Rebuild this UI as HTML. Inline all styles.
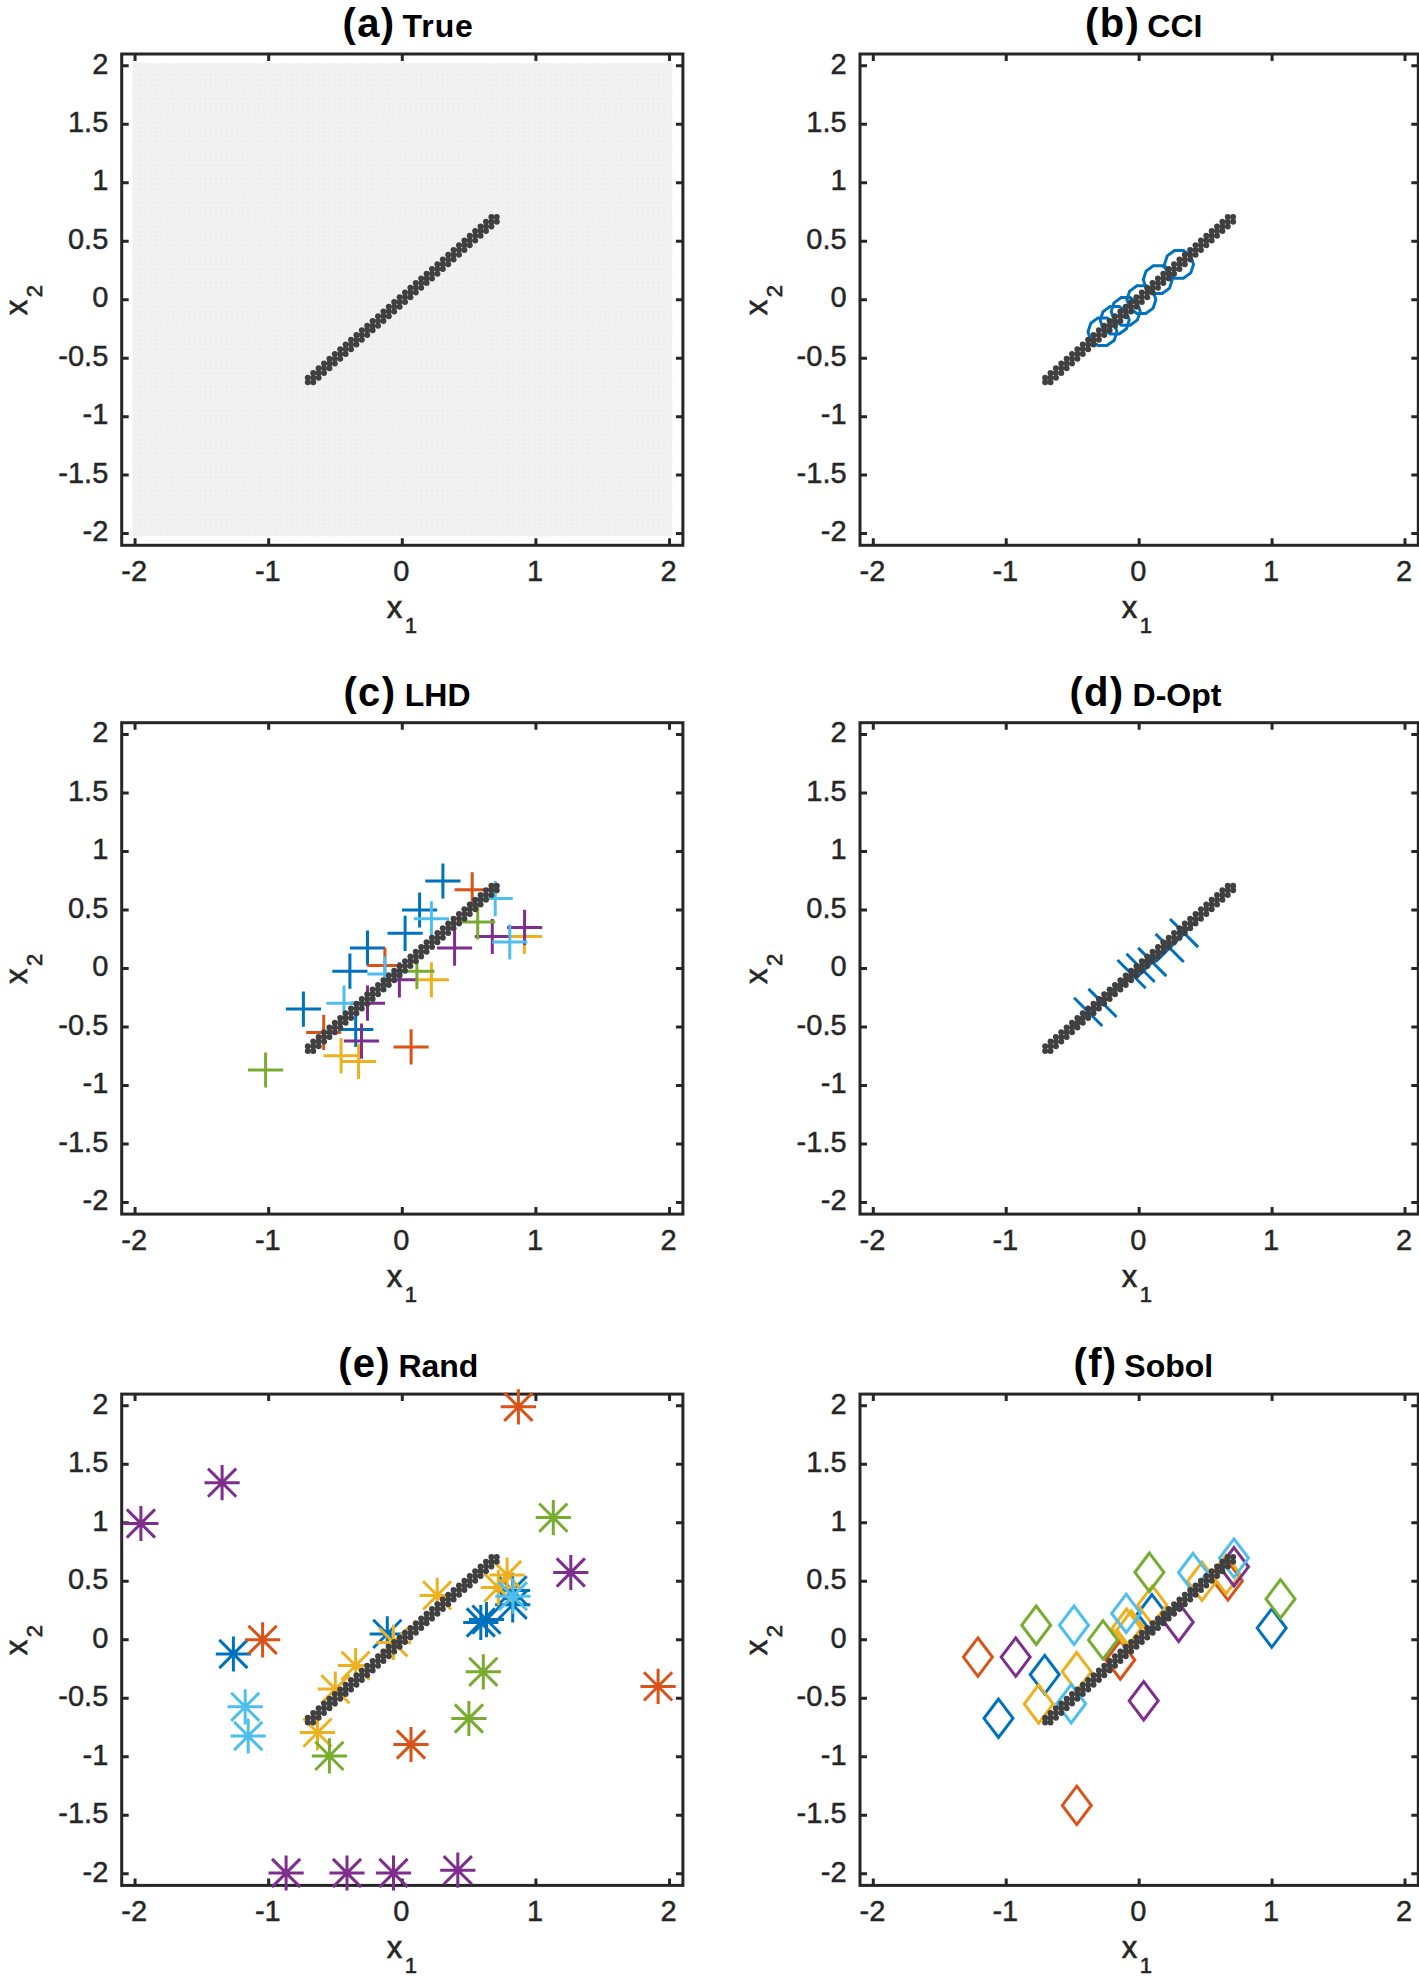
<!DOCTYPE html>
<html lang="en"><head><meta charset="utf-8"><title>Designs: True, CCI, LHD, D-Opt, Rand, Sobol</title>
<style>html,body{margin:0;padding:0;background:#fff}svg{display:block}text{font-family:"Liberation Sans","Helvetica","Arial",sans-serif}.tk{font-size:29px;fill:#262626;stroke:#262626;stroke-width:.45px}.lb{font-size:31px;fill:#262626;stroke:#262626;stroke-width:.6px}.sb{font-size:22px}.t1{font-size:40px;font-weight:bold;fill:#000;letter-spacing:1.3px}.t2{font-size:32px;font-weight:bold;fill:#000}.fr{fill:none;stroke:#262626;stroke-width:3.0}.mk{fill:none;stroke-width:3.0;stroke-linejoin:miter}</style></head><body>
<svg width="1419" height="1978" viewBox="0 0 1419 1978">
<rect width="1419" height="1978" fill="#fff"/>
<defs>
<g id="band0" fill="#404040">
<circle cx="186.12" cy="328.36" r="3.0"/>
<circle cx="186.12" cy="323.63" r="3.0"/>
<circle cx="191.52" cy="328.36" r="3.0"/>
<circle cx="191.52" cy="323.63" r="3.0"/>
<circle cx="191.52" cy="318.91" r="3.0"/>
<circle cx="196.92" cy="323.63" r="3.0"/>
<circle cx="196.92" cy="318.91" r="3.0"/>
<circle cx="196.92" cy="314.18" r="3.0"/>
<circle cx="202.32" cy="318.91" r="3.0"/>
<circle cx="202.32" cy="314.18" r="3.0"/>
<circle cx="202.32" cy="309.46" r="3.0"/>
<circle cx="207.72" cy="314.18" r="3.0"/>
<circle cx="207.72" cy="309.46" r="3.0"/>
<circle cx="207.72" cy="304.73" r="3.0"/>
<circle cx="213.12" cy="309.46" r="3.0"/>
<circle cx="213.12" cy="304.73" r="3.0"/>
<circle cx="213.12" cy="300" r="3.0"/>
<circle cx="218.51" cy="304.73" r="3.0"/>
<circle cx="218.51" cy="300" r="3.0"/>
<circle cx="218.51" cy="295.28" r="3.0"/>
<circle cx="223.91" cy="300" r="3.0"/>
<circle cx="223.91" cy="295.28" r="3.0"/>
<circle cx="223.91" cy="290.55" r="3.0"/>
<circle cx="229.31" cy="295.28" r="3.0"/>
<circle cx="229.31" cy="290.55" r="3.0"/>
<circle cx="229.31" cy="285.82" r="3.0"/>
<circle cx="234.71" cy="290.55" r="3.0"/>
<circle cx="234.71" cy="285.82" r="3.0"/>
<circle cx="234.71" cy="281.1" r="3.0"/>
<circle cx="240.11" cy="285.82" r="3.0"/>
<circle cx="240.11" cy="281.1" r="3.0"/>
<circle cx="240.11" cy="276.37" r="3.0"/>
<circle cx="245.51" cy="281.1" r="3.0"/>
<circle cx="245.51" cy="276.37" r="3.0"/>
<circle cx="245.51" cy="271.64" r="3.0"/>
<circle cx="250.91" cy="276.37" r="3.0"/>
<circle cx="250.91" cy="271.64" r="3.0"/>
<circle cx="250.91" cy="266.92" r="3.0"/>
<circle cx="256.31" cy="271.64" r="3.0"/>
<circle cx="256.31" cy="266.92" r="3.0"/>
<circle cx="256.31" cy="262.19" r="3.0"/>
<circle cx="261.7" cy="266.92" r="3.0"/>
<circle cx="261.7" cy="262.19" r="3.0"/>
<circle cx="261.7" cy="257.47" r="3.0"/>
<circle cx="267.1" cy="262.19" r="3.0"/>
<circle cx="267.1" cy="257.47" r="3.0"/>
<circle cx="267.1" cy="252.74" r="3.0"/>
<circle cx="272.5" cy="257.47" r="3.0"/>
<circle cx="272.5" cy="252.74" r="3.0"/>
<circle cx="272.5" cy="248.01" r="3.0"/>
<circle cx="277.9" cy="252.74" r="3.0"/>
<circle cx="277.9" cy="248.01" r="3.0"/>
<circle cx="277.9" cy="243.29" r="3.0"/>
<circle cx="283.3" cy="248.01" r="3.0"/>
<circle cx="283.3" cy="243.29" r="3.0"/>
<circle cx="283.3" cy="238.56" r="3.0"/>
<circle cx="288.7" cy="243.29" r="3.0"/>
<circle cx="288.7" cy="238.56" r="3.0"/>
<circle cx="288.7" cy="233.83" r="3.0"/>
<circle cx="294.1" cy="238.56" r="3.0"/>
<circle cx="294.1" cy="233.83" r="3.0"/>
<circle cx="294.1" cy="229.11" r="3.0"/>
<circle cx="299.5" cy="233.83" r="3.0"/>
<circle cx="299.5" cy="229.11" r="3.0"/>
<circle cx="299.5" cy="224.38" r="3.0"/>
<circle cx="304.89" cy="229.11" r="3.0"/>
<circle cx="304.89" cy="224.38" r="3.0"/>
<circle cx="304.89" cy="219.66" r="3.0"/>
<circle cx="310.29" cy="224.38" r="3.0"/>
<circle cx="310.29" cy="219.66" r="3.0"/>
<circle cx="310.29" cy="214.93" r="3.0"/>
<circle cx="315.69" cy="219.66" r="3.0"/>
<circle cx="315.69" cy="214.93" r="3.0"/>
<circle cx="315.69" cy="210.2" r="3.0"/>
<circle cx="321.09" cy="214.93" r="3.0"/>
<circle cx="321.09" cy="210.2" r="3.0"/>
<circle cx="321.09" cy="205.48" r="3.0"/>
<circle cx="326.49" cy="210.2" r="3.0"/>
<circle cx="326.49" cy="205.48" r="3.0"/>
<circle cx="326.49" cy="200.75" r="3.0"/>
<circle cx="331.89" cy="205.48" r="3.0"/>
<circle cx="331.89" cy="200.75" r="3.0"/>
<circle cx="331.89" cy="196.02" r="3.0"/>
<circle cx="337.29" cy="200.75" r="3.0"/>
<circle cx="337.29" cy="196.02" r="3.0"/>
<circle cx="337.29" cy="191.3" r="3.0"/>
<circle cx="342.69" cy="196.02" r="3.0"/>
<circle cx="342.69" cy="191.3" r="3.0"/>
<circle cx="342.69" cy="186.57" r="3.0"/>
<circle cx="348.08" cy="191.3" r="3.0"/>
<circle cx="348.08" cy="186.57" r="3.0"/>
<circle cx="348.08" cy="181.84" r="3.0"/>
<circle cx="353.48" cy="186.57" r="3.0"/>
<circle cx="353.48" cy="181.84" r="3.0"/>
<circle cx="353.48" cy="177.12" r="3.0"/>
<circle cx="358.88" cy="181.84" r="3.0"/>
<circle cx="358.88" cy="177.12" r="3.0"/>
<circle cx="358.88" cy="172.39" r="3.0"/>
<circle cx="364.28" cy="177.12" r="3.0"/>
<circle cx="364.28" cy="172.39" r="3.0"/>
<circle cx="364.28" cy="167.67" r="3.0"/>
<circle cx="369.68" cy="172.39" r="3.0"/>
<circle cx="369.68" cy="167.67" r="3.0"/>
<circle cx="369.68" cy="162.94" r="3.0"/>
<circle cx="375.08" cy="167.67" r="3.0"/>
<circle cx="375.08" cy="162.94" r="3.0"/>
</g>
<g id="band1" fill="#404040">
<circle cx="185.16" cy="328.36" r="3.0"/>
<circle cx="185.16" cy="323.63" r="3.0"/>
<circle cx="190.53" cy="328.36" r="3.0"/>
<circle cx="190.53" cy="323.63" r="3.0"/>
<circle cx="190.53" cy="318.91" r="3.0"/>
<circle cx="195.9" cy="323.63" r="3.0"/>
<circle cx="195.9" cy="318.91" r="3.0"/>
<circle cx="195.9" cy="314.18" r="3.0"/>
<circle cx="201.27" cy="318.91" r="3.0"/>
<circle cx="201.27" cy="314.18" r="3.0"/>
<circle cx="201.27" cy="309.46" r="3.0"/>
<circle cx="206.64" cy="314.18" r="3.0"/>
<circle cx="206.64" cy="309.46" r="3.0"/>
<circle cx="206.64" cy="304.73" r="3.0"/>
<circle cx="212.01" cy="309.46" r="3.0"/>
<circle cx="212.01" cy="304.73" r="3.0"/>
<circle cx="212.01" cy="300" r="3.0"/>
<circle cx="217.39" cy="304.73" r="3.0"/>
<circle cx="217.39" cy="300" r="3.0"/>
<circle cx="217.39" cy="295.28" r="3.0"/>
<circle cx="222.76" cy="300" r="3.0"/>
<circle cx="222.76" cy="295.28" r="3.0"/>
<circle cx="222.76" cy="290.55" r="3.0"/>
<circle cx="228.13" cy="295.28" r="3.0"/>
<circle cx="228.13" cy="290.55" r="3.0"/>
<circle cx="228.13" cy="285.82" r="3.0"/>
<circle cx="233.5" cy="290.55" r="3.0"/>
<circle cx="233.5" cy="285.82" r="3.0"/>
<circle cx="233.5" cy="281.1" r="3.0"/>
<circle cx="238.87" cy="285.82" r="3.0"/>
<circle cx="238.87" cy="281.1" r="3.0"/>
<circle cx="238.87" cy="276.37" r="3.0"/>
<circle cx="244.24" cy="281.1" r="3.0"/>
<circle cx="244.24" cy="276.37" r="3.0"/>
<circle cx="244.24" cy="271.64" r="3.0"/>
<circle cx="249.61" cy="276.37" r="3.0"/>
<circle cx="249.61" cy="271.64" r="3.0"/>
<circle cx="249.61" cy="266.92" r="3.0"/>
<circle cx="254.98" cy="271.64" r="3.0"/>
<circle cx="254.98" cy="266.92" r="3.0"/>
<circle cx="254.98" cy="262.19" r="3.0"/>
<circle cx="260.35" cy="266.92" r="3.0"/>
<circle cx="260.35" cy="262.19" r="3.0"/>
<circle cx="260.35" cy="257.47" r="3.0"/>
<circle cx="265.72" cy="262.19" r="3.0"/>
<circle cx="265.72" cy="257.47" r="3.0"/>
<circle cx="265.72" cy="252.74" r="3.0"/>
<circle cx="271.09" cy="257.47" r="3.0"/>
<circle cx="271.09" cy="252.74" r="3.0"/>
<circle cx="271.09" cy="248.01" r="3.0"/>
<circle cx="276.46" cy="252.74" r="3.0"/>
<circle cx="276.46" cy="248.01" r="3.0"/>
<circle cx="276.46" cy="243.29" r="3.0"/>
<circle cx="281.84" cy="248.01" r="3.0"/>
<circle cx="281.84" cy="243.29" r="3.0"/>
<circle cx="281.84" cy="238.56" r="3.0"/>
<circle cx="287.21" cy="243.29" r="3.0"/>
<circle cx="287.21" cy="238.56" r="3.0"/>
<circle cx="287.21" cy="233.83" r="3.0"/>
<circle cx="292.58" cy="238.56" r="3.0"/>
<circle cx="292.58" cy="233.83" r="3.0"/>
<circle cx="292.58" cy="229.11" r="3.0"/>
<circle cx="297.95" cy="233.83" r="3.0"/>
<circle cx="297.95" cy="229.11" r="3.0"/>
<circle cx="297.95" cy="224.38" r="3.0"/>
<circle cx="303.32" cy="229.11" r="3.0"/>
<circle cx="303.32" cy="224.38" r="3.0"/>
<circle cx="303.32" cy="219.66" r="3.0"/>
<circle cx="308.69" cy="224.38" r="3.0"/>
<circle cx="308.69" cy="219.66" r="3.0"/>
<circle cx="308.69" cy="214.93" r="3.0"/>
<circle cx="314.06" cy="219.66" r="3.0"/>
<circle cx="314.06" cy="214.93" r="3.0"/>
<circle cx="314.06" cy="210.2" r="3.0"/>
<circle cx="319.43" cy="214.93" r="3.0"/>
<circle cx="319.43" cy="210.2" r="3.0"/>
<circle cx="319.43" cy="205.48" r="3.0"/>
<circle cx="324.8" cy="210.2" r="3.0"/>
<circle cx="324.8" cy="205.48" r="3.0"/>
<circle cx="324.8" cy="200.75" r="3.0"/>
<circle cx="330.17" cy="205.48" r="3.0"/>
<circle cx="330.17" cy="200.75" r="3.0"/>
<circle cx="330.17" cy="196.02" r="3.0"/>
<circle cx="335.54" cy="200.75" r="3.0"/>
<circle cx="335.54" cy="196.02" r="3.0"/>
<circle cx="335.54" cy="191.3" r="3.0"/>
<circle cx="340.91" cy="196.02" r="3.0"/>
<circle cx="340.91" cy="191.3" r="3.0"/>
<circle cx="340.91" cy="186.57" r="3.0"/>
<circle cx="346.29" cy="191.3" r="3.0"/>
<circle cx="346.29" cy="186.57" r="3.0"/>
<circle cx="346.29" cy="181.84" r="3.0"/>
<circle cx="351.66" cy="186.57" r="3.0"/>
<circle cx="351.66" cy="181.84" r="3.0"/>
<circle cx="351.66" cy="177.12" r="3.0"/>
<circle cx="357.03" cy="181.84" r="3.0"/>
<circle cx="357.03" cy="177.12" r="3.0"/>
<circle cx="357.03" cy="172.39" r="3.0"/>
<circle cx="362.4" cy="177.12" r="3.0"/>
<circle cx="362.4" cy="172.39" r="3.0"/>
<circle cx="362.4" cy="167.67" r="3.0"/>
<circle cx="367.77" cy="172.39" r="3.0"/>
<circle cx="367.77" cy="167.67" r="3.0"/>
<circle cx="367.77" cy="162.94" r="3.0"/>
<circle cx="373.14" cy="167.67" r="3.0"/>
<circle cx="373.14" cy="162.94" r="3.0"/>
</g>
<pattern id="gap" patternUnits="userSpaceOnUse" x="135.06" y="65.7" width="5.3987" height="4.7263">
<circle cx="2.699" cy="2.363" r="0.8" fill="#fff" fill-opacity="0.85"/>
</pattern>
</defs>
<g id="panel-a">
<rect x="135.06" y="65.7" width="534.48" height="467.9" fill="#f0f0f0"/>
<g fill="none" stroke="#f0f0f0" stroke-width="6" stroke-linecap="round">
<path stroke-dasharray="0 5.3987" d="M135.06 65.7H670.04M135.06 533.6H670.04"/>
<path stroke-dasharray="0 4.7263" d="M135.06 65.7V534.1M669.54 65.7V534.1"/>
</g>
<rect x="135.06" y="65.7" width="534.48" height="467.9" fill="url(#gap)"/>
<path class="fr" d="M135.06 545.3v-7M135.06 54v7M268.68 545.3v-7M268.68 54v7M402.3 545.3v-7M402.3 54v7M535.92 545.3v-7M535.92 54v7M669.54 545.3v-7M669.54 54v7M121.7 533.6h7M682.9 533.6h-7M121.7 475.11h7M682.9 475.11h-7M121.7 416.63h7M682.9 416.63h-7M121.7 358.14h7M682.9 358.14h-7M121.7 299.65h7M682.9 299.65h-7M121.7 241.16h7M682.9 241.16h-7M121.7 182.67h7M682.9 182.67h-7M121.7 124.19h7M682.9 124.19h-7M121.7 65.7h7M682.9 65.7h-7"/>
<rect class="fr" x="121.7" y="54" width="561.2" height="491.3"/>
<use href="#band0" x="121.7" y="54"/>
<text class="tk" x="134.16" y="580.7" text-anchor="middle">-2</text>
<text class="tk" x="267.78" y="580.7" text-anchor="middle">-1</text>
<text class="tk" x="401.4" y="580.7" text-anchor="middle">0</text>
<text class="tk" x="535.02" y="580.7" text-anchor="middle">1</text>
<text class="tk" x="668.64" y="580.7" text-anchor="middle">2</text>
<text class="tk" x="108.3" y="541.4" text-anchor="end">-2</text>
<text class="tk" x="108.3" y="482.91" text-anchor="end">-1.5</text>
<text class="tk" x="108.3" y="424.43" text-anchor="end">-1</text>
<text class="tk" x="108.3" y="365.94" text-anchor="end">-0.5</text>
<text class="tk" x="108.3" y="307.45" text-anchor="end">0</text>
<text class="tk" x="108.3" y="248.96" text-anchor="end">0.5</text>
<text class="tk" x="108.3" y="190.47" text-anchor="end">1</text>
<text class="tk" x="108.3" y="131.99" text-anchor="end">1.5</text>
<text class="tk" x="108.3" y="73.5" text-anchor="end">2</text>
<text class="lb" x="386.7" y="618.1">x<tspan class="sb" dx="2.5" dy="14.8">1</tspan></text>
<text class="lb" transform="translate(27.3 315.15) rotate(-90)">x<tspan class="sb" dx="2.5" dy="14.8">2</tspan></text>
<text class="t1" x="342.6" y="37">(a)</text>
<text class="t2" x="402.6" y="37" letter-spacing="0.9">True</text>
</g>
<g id="panel-b">
<path class="fr" d="M873.29 545.3v-7M873.29 54v7M1006.22 545.3v-7M1006.22 54v7M1139.15 545.3v-7M1139.15 54v7M1272.08 545.3v-7M1272.08 54v7M1405.01 545.3v-7M1405.01 54v7M860 533.6h7M1418.3 533.6h-7M860 475.11h7M1418.3 475.11h-7M860 416.63h7M1418.3 416.63h-7M860 358.14h7M1418.3 358.14h-7M860 299.65h7M1418.3 299.65h-7M860 241.16h7M1418.3 241.16h-7M860 182.67h7M1418.3 182.67h-7M860 124.19h7M1418.3 124.19h-7M860 65.7h7M1418.3 65.7h-7"/>
<rect class="fr" x="860" y="54" width="558.3" height="491.3"/>
<g class="mk">
<path d="M1117 331.7L1114.23 323.18L1106.98 317.91L1098.02 317.91L1090.77 323.18L1088 331.7L1090.77 340.22L1098.02 345.49L1106.98 345.49L1114.23 340.22Z" stroke="#0072BD"/>
<path d="M1129.2 320.2L1126.43 311.68L1119.18 306.41L1110.22 306.41L1102.97 311.68L1100.2 320.2L1102.97 328.72L1110.22 333.99L1119.18 333.99L1126.43 328.72Z" stroke="#0072BD"/>
<path d="M1140.2 311.4L1137.43 302.88L1130.18 297.61L1121.22 297.61L1113.97 302.88L1111.2 311.4L1113.97 319.92L1121.22 325.19L1130.18 325.19L1137.43 319.92Z" stroke="#0072BD"/>
<path d="M1155.9 299.6L1153.13 291.08L1145.88 285.81L1136.92 285.81L1129.67 291.08L1126.9 299.6L1129.67 308.12L1136.92 313.39L1145.88 313.39L1153.13 308.12Z" stroke="#0072BD"/>
<path d="M1172.3 279.6L1169.53 271.08L1162.28 265.81L1153.32 265.81L1146.07 271.08L1143.3 279.6L1146.07 288.12L1153.32 293.39L1162.28 293.39L1169.53 288.12Z" stroke="#0072BD"/>
<path d="M1193.5 264.4L1190.73 255.88L1183.48 250.61L1174.52 250.61L1167.27 255.88L1164.5 264.4L1167.27 272.92L1174.52 278.19L1183.48 278.19L1190.73 272.92Z" stroke="#0072BD"/>
</g>
<use href="#band1" x="860" y="54"/>
<text class="tk" x="872.39" y="580.7" text-anchor="middle">-2</text>
<text class="tk" x="1005.32" y="580.7" text-anchor="middle">-1</text>
<text class="tk" x="1138.25" y="580.7" text-anchor="middle">0</text>
<text class="tk" x="1271.18" y="580.7" text-anchor="middle">1</text>
<text class="tk" x="1404.11" y="580.7" text-anchor="middle">2</text>
<text class="tk" x="846.6" y="541.4" text-anchor="end">-2</text>
<text class="tk" x="846.6" y="482.91" text-anchor="end">-1.5</text>
<text class="tk" x="846.6" y="424.43" text-anchor="end">-1</text>
<text class="tk" x="846.6" y="365.94" text-anchor="end">-0.5</text>
<text class="tk" x="846.6" y="307.45" text-anchor="end">0</text>
<text class="tk" x="846.6" y="248.96" text-anchor="end">0.5</text>
<text class="tk" x="846.6" y="190.47" text-anchor="end">1</text>
<text class="tk" x="846.6" y="131.99" text-anchor="end">1.5</text>
<text class="tk" x="846.6" y="73.5" text-anchor="end">2</text>
<text class="lb" x="1121.75" y="618.1">x<tspan class="sb" dx="2.5" dy="14.8">1</tspan></text>
<text class="lb" transform="translate(767.2 315.15) rotate(-90)">x<tspan class="sb" dx="2.5" dy="14.8">2</tspan></text>
<text class="t1" x="1085.1" y="37">(b)</text>
<text class="t2" x="1147.3" y="37">CCI</text>
</g>
<g id="panel-c">
<path class="fr" d="M135.06 1214.1v-7M135.06 722.7v7M268.68 1214.1v-7M268.68 722.7v7M402.3 1214.1v-7M402.3 722.7v7M535.92 1214.1v-7M535.92 722.7v7M669.54 1214.1v-7M669.54 722.7v7M121.7 1202.4h7M682.9 1202.4h-7M121.7 1143.9h7M682.9 1143.9h-7M121.7 1085.4h7M682.9 1085.4h-7M121.7 1026.9h7M682.9 1026.9h-7M121.7 968.4h7M682.9 968.4h-7M121.7 909.9h7M682.9 909.9h-7M121.7 851.4h7M682.9 851.4h-7M121.7 792.9h7M682.9 792.9h-7M121.7 734.4h7M682.9 734.4h-7"/>
<rect class="fr" x="121.7" y="722.7" width="561.2" height="491.4"/>
<g class="mk">
<path d="M425.3 881H460.5M442.9 863.4V898.6" stroke="#0072BD"/>
<path d="M402 910H437.2M419.6 892.4V927.6" stroke="#0072BD"/>
<path d="M387.5 933.3H422.7M405.1 915.7V950.9" stroke="#0072BD"/>
<path d="M349.9 948H385.1M367.5 930.4V965.6" stroke="#0072BD"/>
<path d="M332.3 971.2H367.5M349.9 953.6V988.8" stroke="#0072BD"/>
<path d="M285.8 1009.1H321M303.4 991.5V1026.7" stroke="#0072BD"/>
<path d="M338.1 1029.4H373.3M355.7 1011.8V1047" stroke="#0072BD"/>
<path d="M454.6 889.8H489.8M472.2 872.2V907.4" stroke="#D95319"/>
<path d="M367.3 965.4H402.5M384.9 947.8V983" stroke="#D95319"/>
<path d="M306.1 1032.4H341.3M323.7 1014.8V1050" stroke="#D95319"/>
<path d="M393.5 1046.9H428.7M411.1 1029.3V1064.5" stroke="#D95319"/>
<path d="M506.8 936.5H542M524.4 918.9V954.1" stroke="#EDB120"/>
<path d="M413.8 979.8H449M431.4 962.2V997.4" stroke="#EDB120"/>
<path d="M323.5 1055.7H358.7M341.1 1038.1V1073.3" stroke="#EDB120"/>
<path d="M341 1061.4H376.2M358.6 1043.8V1079" stroke="#EDB120"/>
<path d="M507 927.4H542.2M524.6 909.8V945" stroke="#7E2F8E"/>
<path d="M474.7 936.5H509.9M492.3 918.9V954.1" stroke="#7E2F8E"/>
<path d="M437 948.1H472.2M454.6 930.5V965.7" stroke="#7E2F8E"/>
<path d="M381.8 979.8H417M399.4 962.2V997.4" stroke="#7E2F8E"/>
<path d="M349.9 1003.2H385.1M367.5 985.6V1020.8" stroke="#7E2F8E"/>
<path d="M343.9 1041.1H379.1M361.5 1023.5V1058.7" stroke="#7E2F8E"/>
<path d="M460.1 921.9H495.3M477.7 904.3V939.5" stroke="#77AC30"/>
<path d="M399.3 971.3H434.5M416.9 953.7V988.9" stroke="#77AC30"/>
<path d="M248 1070H283.2M265.6 1052.4V1087.6" stroke="#77AC30"/>
<path d="M477.6 898.6H512.8M495.2 881V916.2" stroke="#4DBEEE"/>
<path d="M413.8 918.8H449M431.4 901.2V936.4" stroke="#4DBEEE"/>
<path d="M492.2 942H527.4M509.8 924.4V959.6" stroke="#4DBEEE"/>
<path d="M367.3 974H402.5M384.9 956.4V991.6" stroke="#4DBEEE"/>
<path d="M326.4 1003.2H361.6M344 985.6V1020.8" stroke="#4DBEEE"/>
</g>
<use href="#band0" x="121.7" y="722.7"/>
<text class="tk" x="134.16" y="1249.5" text-anchor="middle">-2</text>
<text class="tk" x="267.78" y="1249.5" text-anchor="middle">-1</text>
<text class="tk" x="401.4" y="1249.5" text-anchor="middle">0</text>
<text class="tk" x="535.02" y="1249.5" text-anchor="middle">1</text>
<text class="tk" x="668.64" y="1249.5" text-anchor="middle">2</text>
<text class="tk" x="108.3" y="1210.2" text-anchor="end">-2</text>
<text class="tk" x="108.3" y="1151.7" text-anchor="end">-1.5</text>
<text class="tk" x="108.3" y="1093.2" text-anchor="end">-1</text>
<text class="tk" x="108.3" y="1034.7" text-anchor="end">-0.5</text>
<text class="tk" x="108.3" y="976.2" text-anchor="end">0</text>
<text class="tk" x="108.3" y="917.7" text-anchor="end">0.5</text>
<text class="tk" x="108.3" y="859.2" text-anchor="end">1</text>
<text class="tk" x="108.3" y="800.7" text-anchor="end">1.5</text>
<text class="tk" x="108.3" y="742.2" text-anchor="end">2</text>
<text class="lb" x="386.7" y="1286.9">x<tspan class="sb" dx="2.5" dy="14.8">1</tspan></text>
<text class="lb" transform="translate(27.3 983.9) rotate(-90)">x<tspan class="sb" dx="2.5" dy="14.8">2</tspan></text>
<text class="t1" x="343.5" y="705.7">(c)</text>
<text class="t2" x="404.8" y="705.7">LHD</text>
</g>
<g id="panel-d">
<path class="fr" d="M873.29 1214.1v-7M873.29 722.7v7M1006.22 1214.1v-7M1006.22 722.7v7M1139.15 1214.1v-7M1139.15 722.7v7M1272.08 1214.1v-7M1272.08 722.7v7M1405.01 1214.1v-7M1405.01 722.7v7M860 1202.4h7M1418.3 1202.4h-7M860 1143.9h7M1418.3 1143.9h-7M860 1085.4h7M1418.3 1085.4h-7M860 1026.9h7M1418.3 1026.9h-7M860 968.4h7M1418.3 968.4h-7M860 909.9h7M1418.3 909.9h-7M860 851.4h7M1418.3 851.4h-7M860 792.9h7M1418.3 792.9h-7M860 734.4h7M1418.3 734.4h-7"/>
<rect class="fr" x="860" y="722.7" width="558.3" height="491.4"/>
<g class="mk">
<path d="M1074.06 997.78L1102.26 1025.98M1074.06 1025.98L1102.26 997.78" stroke="#0072BD"/>
<path d="M1088.44 988.82L1116.64 1017.02M1088.44 1017.02L1116.64 988.82" stroke="#0072BD"/>
<path d="M1117.53 960.06L1145.73 988.26M1117.53 988.26L1145.73 960.06" stroke="#0072BD"/>
<path d="M1126.49 953.81L1154.69 982.01M1126.49 982.01L1154.69 953.81" stroke="#0072BD"/>
<path d="M1138.16 947.89L1166.36 976.09M1138.16 976.09L1166.36 947.89" stroke="#0072BD"/>
<path d="M1155.58 933.85L1183.78 962.05M1155.58 962.05L1183.78 933.85" stroke="#0072BD"/>
<path d="M1169.96 918.97L1198.16 947.17M1169.96 947.17L1198.16 918.97" stroke="#0072BD"/>
</g>
<use href="#band1" x="860" y="722.7"/>
<text class="tk" x="872.39" y="1249.5" text-anchor="middle">-2</text>
<text class="tk" x="1005.32" y="1249.5" text-anchor="middle">-1</text>
<text class="tk" x="1138.25" y="1249.5" text-anchor="middle">0</text>
<text class="tk" x="1271.18" y="1249.5" text-anchor="middle">1</text>
<text class="tk" x="1404.11" y="1249.5" text-anchor="middle">2</text>
<text class="tk" x="846.6" y="1210.2" text-anchor="end">-2</text>
<text class="tk" x="846.6" y="1151.7" text-anchor="end">-1.5</text>
<text class="tk" x="846.6" y="1093.2" text-anchor="end">-1</text>
<text class="tk" x="846.6" y="1034.7" text-anchor="end">-0.5</text>
<text class="tk" x="846.6" y="976.2" text-anchor="end">0</text>
<text class="tk" x="846.6" y="917.7" text-anchor="end">0.5</text>
<text class="tk" x="846.6" y="859.2" text-anchor="end">1</text>
<text class="tk" x="846.6" y="800.7" text-anchor="end">1.5</text>
<text class="tk" x="846.6" y="742.2" text-anchor="end">2</text>
<text class="lb" x="1121.75" y="1286.9">x<tspan class="sb" dx="2.5" dy="14.8">1</tspan></text>
<text class="lb" transform="translate(767.2 983.9) rotate(-90)">x<tspan class="sb" dx="2.5" dy="14.8">2</tspan></text>
<text class="t1" x="1069.4" y="705.7">(d)</text>
<text class="t2" x="1132.6" y="705.7">D-Opt</text>
</g>
<g id="panel-e">
<path class="fr" d="M135.06 1885.4v-7M135.06 1394.1v7M268.68 1885.4v-7M268.68 1394.1v7M402.3 1885.4v-7M402.3 1394.1v7M535.92 1885.4v-7M535.92 1394.1v7M669.54 1885.4v-7M669.54 1394.1v7M121.7 1873.7h7M682.9 1873.7h-7M121.7 1815.21h7M682.9 1815.21h-7M121.7 1756.73h7M682.9 1756.73h-7M121.7 1698.24h7M682.9 1698.24h-7M121.7 1639.75h7M682.9 1639.75h-7M121.7 1581.26h7M682.9 1581.26h-7M121.7 1522.77h7M682.9 1522.77h-7M121.7 1464.29h7M682.9 1464.29h-7M121.7 1405.8h7M682.9 1405.8h-7"/>
<rect class="fr" x="121.7" y="1394.1" width="561.2" height="491.3"/>
<g class="mk">
<path d="M215.8 1654H251M233.4 1636.4V1671.6M219.3 1639.9L247.5 1668.1M219.3 1668.1L247.5 1639.9" stroke="#0072BD"/>
<path d="M369.7 1633.9H404.9M387.3 1616.3V1651.5M373.2 1619.8L401.4 1648M373.2 1648L401.4 1619.8" stroke="#0072BD"/>
<path d="M463.2 1622.5H498.4M480.8 1604.9V1640.1M466.7 1608.4L494.9 1636.6M466.7 1636.6L494.9 1608.4" stroke="#0072BD"/>
<path d="M468.9 1619.6H504.1M486.5 1602V1637.2M472.4 1605.5L500.6 1633.7M472.4 1633.7L500.6 1605.5" stroke="#0072BD"/>
<path d="M495.1 1604.8H530.3M512.7 1587.2V1622.4M498.6 1590.7L526.8 1618.9M498.6 1618.9L526.8 1590.7" stroke="#0072BD"/>
<path d="M495 1590.4H530.2M512.6 1572.8V1608M498.5 1576.3L526.7 1604.5M498.5 1604.5L526.7 1576.3" stroke="#0072BD"/>
<path d="M245 1639.8H280.2M262.6 1622.2V1657.4M248.5 1625.7L276.7 1653.9M248.5 1653.9L276.7 1625.7" stroke="#D95319"/>
<path d="M500.8 1406.8H536M518.4 1389.2V1424.4M504.3 1392.7L532.5 1420.9M504.3 1420.9L532.5 1392.7" stroke="#D95319"/>
<path d="M393.4 1744.5H428.6M411 1726.9V1762.1M396.9 1730.4L425.1 1758.6M396.9 1758.6L425.1 1730.4" stroke="#D95319"/>
<path d="M640.5 1686.4H675.7M658.1 1668.8V1704M644 1672.3L672.2 1700.5M644 1700.5L672.2 1672.3" stroke="#D95319"/>
<path d="M299.9 1732.6H335.1M317.5 1715V1750.2M303.4 1718.5L331.6 1746.7M303.4 1746.7L331.6 1718.5" stroke="#EDB120"/>
<path d="M317.7 1689.1H352.9M335.3 1671.5V1706.7M321.2 1675L349.4 1703.2M321.2 1703.2L349.4 1675" stroke="#EDB120"/>
<path d="M338 1665.6H373.2M355.6 1648V1683.2M341.5 1651.5L369.7 1679.7M341.5 1679.7L369.7 1651.5" stroke="#EDB120"/>
<path d="M375.8 1642.4H411M393.4 1624.8V1660M379.3 1628.3L407.5 1656.5M379.3 1656.5L407.5 1628.3" stroke="#EDB120"/>
<path d="M419.6 1595.4H454.8M437.2 1577.8V1613M423.1 1581.3L451.3 1609.5M423.1 1609.5L451.3 1581.3" stroke="#EDB120"/>
<path d="M489.5 1575H524.7M507.1 1557.4V1592.6M493 1560.9L521.2 1589.1M493 1589.1L521.2 1560.9" stroke="#EDB120"/>
<path d="M480.7 1587.6H515.9M498.3 1570V1605.2M484.2 1573.5L512.4 1601.7M484.2 1601.7L512.4 1573.5" stroke="#EDB120"/>
<path d="M204.5 1482.7H239.7M222.1 1465.1V1500.3M208 1468.6L236.2 1496.8M208 1496.8L236.2 1468.6" stroke="#7E2F8E"/>
<path d="M123.3 1523.5H158.5M140.9 1505.9V1541.1M126.8 1509.4L155 1537.6M126.8 1537.6L155 1509.4" stroke="#7E2F8E"/>
<path d="M553.2 1572.5H588.4M570.8 1554.9V1590.1M556.7 1558.4L584.9 1586.6M556.7 1586.6L584.9 1558.4" stroke="#7E2F8E"/>
<path d="M268.5 1873H303.7M286.1 1855.4V1890.6M272 1858.9L300.2 1887.1M272 1887.1L300.2 1858.9" stroke="#7E2F8E"/>
<path d="M329.4 1873H364.6M347 1855.4V1890.6M332.9 1858.9L361.1 1887.1M332.9 1887.1L361.1 1858.9" stroke="#7E2F8E"/>
<path d="M375.9 1873H411.1M393.5 1855.4V1890.6M379.4 1858.9L407.6 1887.1M379.4 1887.1L407.6 1858.9" stroke="#7E2F8E"/>
<path d="M440.2 1870.2H475.4M457.8 1852.6V1887.8M443.7 1856.1L471.9 1884.3M443.7 1884.3L471.9 1856.1" stroke="#7E2F8E"/>
<path d="M311.8 1755.9H347M329.4 1738.3V1773.5M315.3 1741.8L343.5 1770M315.3 1770L343.5 1741.8" stroke="#77AC30"/>
<path d="M451.3 1718.5H486.5M468.9 1700.9V1736.1M454.8 1704.4L483 1732.6M454.8 1732.6L483 1704.4" stroke="#77AC30"/>
<path d="M465.7 1671.8H500.9M483.3 1654.2V1689.4M469.2 1657.7L497.4 1685.9M469.2 1685.9L497.4 1657.7" stroke="#77AC30"/>
<path d="M535.7 1517.6H570.9M553.3 1500V1535.2M539.2 1503.5L567.4 1531.7M539.2 1531.7L567.4 1503.5" stroke="#77AC30"/>
<path d="M227.6 1706.8H262.8M245.2 1689.2V1724.4M231.1 1692.7L259.3 1720.9M231.1 1720.9L259.3 1692.7" stroke="#4DBEEE"/>
<path d="M230.6 1736H265.8M248.2 1718.4V1753.6M234.1 1721.9L262.3 1750.1M234.1 1750.1L262.3 1721.9" stroke="#4DBEEE"/>
<path d="M495.3 1596.2H530.5M512.9 1578.6V1613.8M498.8 1582.1L527 1610.3M498.8 1610.3L527 1582.1" stroke="#4DBEEE"/>
</g>
<use href="#band0" x="121.7" y="1394.1"/>
<text class="tk" x="134.16" y="1920.8" text-anchor="middle">-2</text>
<text class="tk" x="267.78" y="1920.8" text-anchor="middle">-1</text>
<text class="tk" x="401.4" y="1920.8" text-anchor="middle">0</text>
<text class="tk" x="535.02" y="1920.8" text-anchor="middle">1</text>
<text class="tk" x="668.64" y="1920.8" text-anchor="middle">2</text>
<text class="tk" x="108.3" y="1881.5" text-anchor="end">-2</text>
<text class="tk" x="108.3" y="1823.01" text-anchor="end">-1.5</text>
<text class="tk" x="108.3" y="1764.53" text-anchor="end">-1</text>
<text class="tk" x="108.3" y="1706.04" text-anchor="end">-0.5</text>
<text class="tk" x="108.3" y="1647.55" text-anchor="end">0</text>
<text class="tk" x="108.3" y="1589.06" text-anchor="end">0.5</text>
<text class="tk" x="108.3" y="1530.57" text-anchor="end">1</text>
<text class="tk" x="108.3" y="1472.09" text-anchor="end">1.5</text>
<text class="tk" x="108.3" y="1413.6" text-anchor="end">2</text>
<text class="lb" x="386.7" y="1958.2">x<tspan class="sb" dx="2.5" dy="14.8">1</tspan></text>
<text class="lb" transform="translate(27.3 1655.25) rotate(-90)">x<tspan class="sb" dx="2.5" dy="14.8">2</tspan></text>
<text class="t1" x="338.2" y="1377.1">(e)</text>
<text class="t2" x="398.4" y="1377.1">Rand</text>
</g>
<g id="panel-f">
<path class="fr" d="M873.29 1885.4v-7M873.29 1394.1v7M1006.22 1885.4v-7M1006.22 1394.1v7M1139.15 1885.4v-7M1139.15 1394.1v7M1272.08 1885.4v-7M1272.08 1394.1v7M1405.01 1885.4v-7M1405.01 1394.1v7M860 1873.7h7M1418.3 1873.7h-7M860 1815.21h7M1418.3 1815.21h-7M860 1756.73h7M1418.3 1756.73h-7M860 1698.24h7M1418.3 1698.24h-7M860 1639.75h7M1418.3 1639.75h-7M860 1581.26h7M1418.3 1581.26h-7M860 1522.77h7M1418.3 1522.77h-7M860 1464.29h7M1418.3 1464.29h-7M860 1405.8h7M1418.3 1405.8h-7"/>
<rect class="fr" x="860" y="1394.1" width="558.3" height="491.3"/>
<g class="mk">
<path d="M1044.7 1655.4L1059.2 1674.6L1044.7 1693.8L1030.2 1674.6Z" stroke="#0072BD"/>
<path d="M998.5 1699.1L1013 1718.3L998.5 1737.5L984 1718.3Z" stroke="#0072BD"/>
<path d="M1152 1594.6L1166.5 1613.8L1152 1633L1137.5 1613.8Z" stroke="#0072BD"/>
<path d="M1271.7 1608.9L1286.2 1628.1L1271.7 1647.3L1257.2 1628.1Z" stroke="#0072BD"/>
<path d="M977.9 1637.9L992.4 1657.1L977.9 1676.3L963.4 1657.1Z" stroke="#D95319"/>
<path d="M1120.3 1640.8L1134.8 1660L1120.3 1679.2L1105.8 1660Z" stroke="#D95319"/>
<path d="M1227.9 1561.7L1242.4 1580.9L1227.9 1600.1L1213.4 1580.9Z" stroke="#D95319"/>
<path d="M1076.8 1786.2L1091.3 1805.4L1076.8 1824.6L1062.3 1805.4Z" stroke="#D95319"/>
<path d="M1038.7 1684.8L1053.2 1704L1038.7 1723.2L1024.2 1704Z" stroke="#EDB120"/>
<path d="M1076.7 1652.6L1091.2 1671.8L1076.7 1691L1062.2 1671.8Z" stroke="#EDB120"/>
<path d="M1126.6 1609.1L1141.1 1628.3L1126.6 1647.5L1112.1 1628.3Z" stroke="#EDB120"/>
<path d="M1131.3 1610.8L1145.8 1630L1131.3 1649.2L1116.8 1630Z" stroke="#EDB120"/>
<path d="M1152.3 1585.9L1166.8 1605.1L1152.3 1624.3L1137.8 1605.1Z" stroke="#EDB120"/>
<path d="M1202 1562.1L1216.5 1581.3L1202 1600.5L1187.5 1581.3Z" stroke="#EDB120"/>
<path d="M1226 1555.3L1240.5 1574.5L1226 1593.7L1211.5 1574.5Z" stroke="#EDB120"/>
<path d="M1015.7 1637.9L1030.2 1657.1L1015.7 1676.3L1001.2 1657.1Z" stroke="#7E2F8E"/>
<path d="M1143.7 1681.6L1158.2 1700.8L1143.7 1720L1129.2 1700.8Z" stroke="#7E2F8E"/>
<path d="M1178.7 1603L1193.2 1622.2L1178.7 1641.4L1164.2 1622.2Z" stroke="#7E2F8E"/>
<path d="M1234 1547.6L1248.5 1566.8L1234 1586L1219.5 1566.8Z" stroke="#7E2F8E"/>
<path d="M1036.2 1606L1050.7 1625.2L1036.2 1644.4L1021.7 1625.2Z" stroke="#77AC30"/>
<path d="M1103 1620.7L1117.5 1639.9L1103 1659.1L1088.5 1639.9Z" stroke="#77AC30"/>
<path d="M1149.4 1553.1L1163.9 1572.3L1149.4 1591.5L1134.9 1572.3Z" stroke="#77AC30"/>
<path d="M1280.5 1579.7L1295 1598.9L1280.5 1618.1L1266 1598.9Z" stroke="#77AC30"/>
<path d="M1074 1606L1088.5 1625.2L1074 1644.4L1059.5 1625.2Z" stroke="#4DBEEE"/>
<path d="M1071.2 1684.5L1085.7 1703.7L1071.2 1722.9L1056.7 1703.7Z" stroke="#4DBEEE"/>
<path d="M1126.2 1594.2L1140.7 1613.4L1126.2 1632.6L1111.7 1613.4Z" stroke="#4DBEEE"/>
<path d="M1193 1553.3L1207.5 1572.5L1193 1591.7L1178.5 1572.5Z" stroke="#4DBEEE"/>
<path d="M1234 1538.9L1248.5 1558.1L1234 1577.3L1219.5 1558.1Z" stroke="#4DBEEE"/>
</g>
<use href="#band1" x="860" y="1394.1"/>
<text class="tk" x="872.39" y="1920.8" text-anchor="middle">-2</text>
<text class="tk" x="1005.32" y="1920.8" text-anchor="middle">-1</text>
<text class="tk" x="1138.25" y="1920.8" text-anchor="middle">0</text>
<text class="tk" x="1271.18" y="1920.8" text-anchor="middle">1</text>
<text class="tk" x="1404.11" y="1920.8" text-anchor="middle">2</text>
<text class="tk" x="846.6" y="1881.5" text-anchor="end">-2</text>
<text class="tk" x="846.6" y="1823.01" text-anchor="end">-1.5</text>
<text class="tk" x="846.6" y="1764.53" text-anchor="end">-1</text>
<text class="tk" x="846.6" y="1706.04" text-anchor="end">-0.5</text>
<text class="tk" x="846.6" y="1647.55" text-anchor="end">0</text>
<text class="tk" x="846.6" y="1589.06" text-anchor="end">0.5</text>
<text class="tk" x="846.6" y="1530.57" text-anchor="end">1</text>
<text class="tk" x="846.6" y="1472.09" text-anchor="end">1.5</text>
<text class="tk" x="846.6" y="1413.6" text-anchor="end">2</text>
<text class="lb" x="1121.75" y="1958.2">x<tspan class="sb" dx="2.5" dy="14.8">1</tspan></text>
<text class="lb" transform="translate(767.2 1655.25) rotate(-90)">x<tspan class="sb" dx="2.5" dy="14.8">2</tspan></text>
<text class="t1" x="1073.6" y="1377.1">(f)</text>
<text class="t2" x="1124.3" y="1377.1">Sobol</text>
</g>
</svg></body></html>
